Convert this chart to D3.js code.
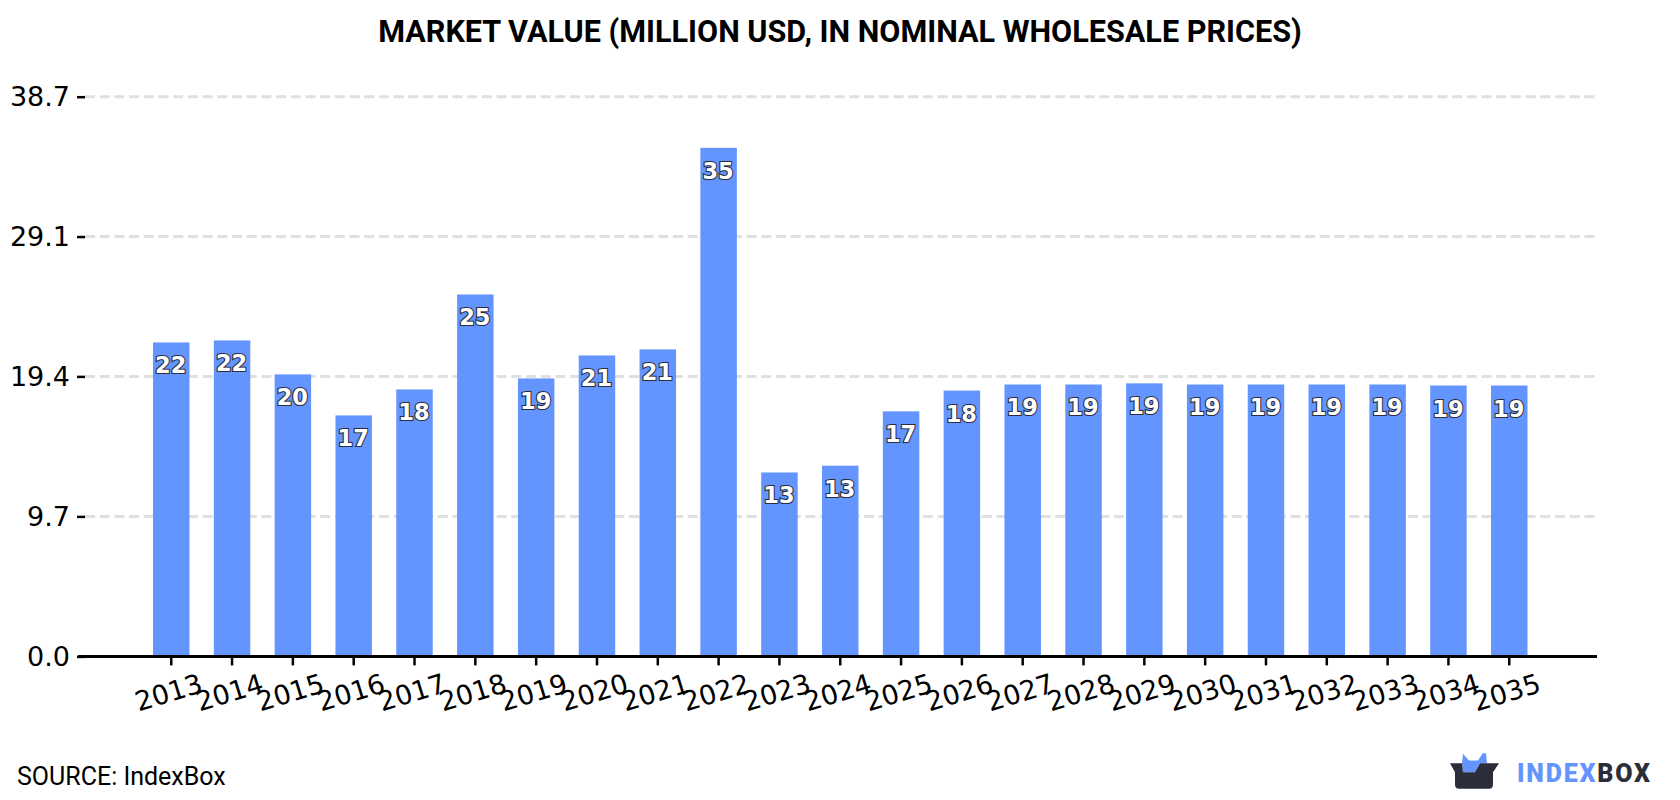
<!DOCTYPE html>
<html>
<head>
<meta charset="utf-8">
<script src="https://cdn.jsdelivr.net/npm/d3@7"></script>
<style>
  html, body { margin: 0; padding: 0; background: #fff; }
  svg { display: block; }
</style>
</head>
<body>
<svg id="chart" width="1680" height="800"></svg>
<script>
// Market value by year, million USD
const years = [2013, 2014, 2015, 2016, 2017, 2018, 2019, 2020, 2021, 2022, 2023, 2024,
               2025, 2026, 2027, 2028, 2029, 2030, 2031, 2032, 2033, 2034, 2035];
const marketValues = [21.73, 21.87, 19.52, 16.68, 18.48, 25.05, 19.24, 20.83, 21.25, 35.2, 12.73, 13.2,
                      16.96, 18.4, 18.82, 18.82, 18.9, 18.82, 18.82, 18.82, 18.82, 18.75, 18.75];
const yTicks = [0, 9.69, 19.38, 29.06, 38.74];

const chartTitle = "MARKET VALUE (MILLION USD, IN NOMINAL WHOLESALE PRICES)";
const sourceNote = "SOURCE: IndexBox";

const barColor = "#6495ff";
const logoDark = "#2b2d3b";
const axisFont = "'DejaVu Sans', sans-serif";
const textFont = "Roboto, sans-serif";

const svg = d3.select("#chart");

const x = d3.scaleBand().domain(years).range([85, 1595.5]).paddingInner(0.4).paddingOuter(1.118);
const y = d3.scaleLinear().domain([0, 38.74]).range([656.4, 96.7]);

// Horizontal dashed grid
svg.append("g").selectAll("line")
  .data(yTicks.filter(d => d > 0))
  .join("line")
  .attr("x1", 85).attr("x2", 1597)
  .attr("y1", d => y(d)).attr("y2", d => y(d))
  .attr("stroke", "#e0e0e0")
  .attr("stroke-width", 3)
  .attr("stroke-dasharray", "10 4.7");

// Bars
svg.append("g").selectAll("rect")
  .data(years)
  .join("rect")
  .attr("x", d => x(d))
  .attr("width", x.bandwidth())
  .attr("y", (d, i) => y(marketValues[i]))
  .attr("height", (d, i) => y(0) - y(marketValues[i]))
  .attr("fill", barColor);

// Left axis
const yAxis = svg.append("g")
  .attr("transform", "translate(85,0)")
  .call(d3.axisLeft(y).tickValues(yTicks).tickFormat(d3.format(".1f")).tickSize(8).tickPadding(7));
yAxis.select(".domain").remove();
yAxis.selectAll(".tick line").attr("stroke", "#000").attr("stroke-width", 2.5);
yAxis.selectAll("text")
  .attr("fill", "#000")
  .style("font-family", axisFont)
  .style("font-size", "27px");

// Bottom axis
const xAxis = svg.append("g")
  .attr("transform", "translate(0,656.4)")
  .call(d3.axisBottom(x).tickSize(9).tickPadding(10));
xAxis.select(".domain").remove();
xAxis.selectAll(".tick line").attr("stroke", "#000").attr("stroke-width", 2.5);
xAxis.selectAll("text")
  .attr("fill", "#000")
  .style("font-family", axisFont)
  .style("font-size", "27px")
  .attr("text-anchor", "middle")
  .attr("dy", 0)
  .attr("y", 0)
  .attr("transform", "translate(-2,38) rotate(-17)")
  .attr("dominant-baseline", "middle");

svg.append("line")
  .attr("x1", 78).attr("x2", 1597)
  .attr("y1", y(0)).attr("y2", y(0))
  .attr("stroke", "#000")
  .attr("stroke-width", 3);

// Value labels inside the bars
svg.append("g").selectAll("text")
  .data(years)
  .join("text")
  .attr("x", d => x(d) + x.bandwidth() / 2 - 0.5)
  .attr("y", (d, i) => y(marketValues[i]) + 31)
  .attr("text-anchor", "middle")
  .attr("fill", "#fff")
  .attr("stroke", "#2b2d3b")
  .attr("stroke-width", 2.2)
  .attr("paint-order", "stroke")
  .style("font-family", axisFont)
  .style("font-weight", "700")
  .style("font-size", "22.5px")
  .text((d, i) => d3.format(".0f")(marketValues[i]));

// Title and source
svg.append("text")
  .attr("x", 840).attr("y", 41.5)
  .attr("text-anchor", "middle")
  .attr("fill", "#000")
  .style("font-family", textFont)
  .style("font-weight", "700")
  .style("font-size", "30.6px")
  .text(chartTitle);

svg.append("text")
  .attr("x", 17).attr("y", 784.5)
  .attr("fill", "#000")
  .style("font-family", textFont)
  .style("font-size", "25px")
  .text(sourceNote);

// Brand mark: blue crown rising out of a dark open box
const logo = svg.append("g").attr("transform", "translate(1450,763.3)");
logo.append("path")
  .attr("d", "M12,0 L13,-9.5 L19,-2.7 L28,-2.7 L32.7,-10 L36,-10 L37,0 L30,0 L25,9 L13,9 Z")
  .attr("fill", barColor);
logo.append("path")
  .attr("d", "M0,0 L12,0 L13,9 L25,9 L30,0 L49,0 L43,9 L43,21 Q43,25.5 39,25.5 L9,25.5 Q5,25.5 5,21 L5,9 Z")
  .attr("fill", logoDark);

const brand = svg.append("text")
  .attr("x", 1517).attr("y", 782)
  .style("font-family", textFont)
  .style("font-weight", "900")
  .style("font-size", "25px")
  .style("letter-spacing", "1.8px");
brand.append("tspan").attr("fill", barColor).text("INDEX");
brand.append("tspan").attr("fill", logoDark).text("BOX");
</script>
</body>
</html>
